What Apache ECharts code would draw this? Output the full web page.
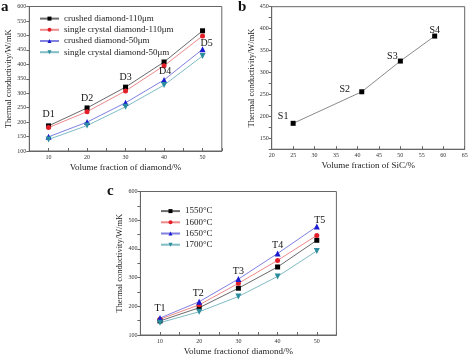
<!DOCTYPE html>
<html><head><meta charset="utf-8">
<script src="https://cdn.jsdelivr.net/npm/echarts@6/dist/echarts.min.js"></script>
<style>html,body{margin:0;padding:0;background:#fff}#c{width:474px;height:361px}</style>
</head><body><div id="c"></div>
<script>
// Panel a
const xA = [10, 20, 30, 40, 50];
const crushed110 = [187, 249, 321, 408, 516];
const single110 = [181, 236, 308, 395, 498];
const crushed50 = [149, 200, 267, 346, 452];
const single50 = [140, 188, 253, 328, 429];
const namesA = ['crushed diamond-110μm', 'single crystal diamond-110μm', 'crushed diamond-50μm', 'single crystal diamond-50μm'];
const labelsA = ['D1', 'D2', 'D3', 'D4', 'D5'];
// Panel b
const xB = [25, 41, 50, 58];
const sicTC = [184, 256, 326, 383];
const labelsB = ['S1', 'S2', 'S3', 'S4'];
// Panel c
const xC = [10, 20, 30, 40, 50];
const t1550 = [149, 195, 263, 337, 430];
const t1600 = [155, 205, 280, 360, 447];
const t1650 = [159, 216, 295, 384, 478];
const t1700 = [143, 181, 234, 304, 393];
const namesC = ['1550°C', '1600°C', '1650°C', '1700°C'];
const labelsC = ['T1', 'T2', 'T3', 'T4', 'T5'];

const FONT = 'Liberation Serif';
const markerColors = ['#000000', '#e3202a', '#1a1ad0', '#2a8c9c'];
const lineColors = ['#6a6a6a', '#ee8a8a', '#8080e0', '#80bcc4'];
const symbols = ['rect', 'circle', 'triangle', 'path://M0,0 L10,0 L5,9 Z'];
const symSizes = [5, 5, 6, 6];

function pairs(xs, ys) { return xs.map((x, i) => [x, ys[i]]); }

function withLabels(xs, ys, labels, which, offsets) {
  return xs.map((x, i) => {
    const item = { value: [x, ys[i]] };
    if (which[i]) {
      item.label = { show: true, formatter: labels[i], position: 'inside', offset: offsets[i],
        fontFamily: FONT, fontSize: 10, color: '#111' };
    }
    return item;
  });
}

function lineSeries(name, data, k, gi, extra) {
  return Object.assign({
    name: name, type: 'line', xAxisIndex: gi, yAxisIndex: gi, data: data,
    symbol: symbols[k], symbolSize: symSizes[k],
    itemStyle: { color: markerColors[k] },
    lineStyle: { color: lineColors[k], width: 1 },
    emphasis: { disabled: true }, animation: false, z: 3
  }, extra || {});
}

const axisLineStyle = { lineStyle: { color: '#666', width: 1 } };
function xAxis(gi, min, max, interval, every, name, gap) {
  return {
    type: 'value', gridIndex: gi, min: min, max: max, interval: interval,
    axisLine: axisLineStyle, splitLine: { show: false },
    axisTick: { inside: true, length: 3, lineStyle: { color: '#666' } },
    axisLabel: { fontFamily: FONT, fontSize: 6, color: '#333', margin: 3,
      formatter: v => (v % every === 0) ? String(v) : '' },
    name: name, nameLocation: 'middle', nameGap: gap,
    nameTextStyle: { fontFamily: FONT, fontSize: 9, color: '#222' }
  };
}
function yAxis(gi, min, max, interval, every, name, gap) {
  return {
    type: 'value', gridIndex: gi, min: min, max: max, interval: interval,
    axisLine: axisLineStyle, splitLine: { show: false },
    axisTick: { inside: false, length: 3, lineStyle: { color: '#666' } },
    axisLabel: { fontFamily: FONT, fontSize: 6, color: '#333', margin: 3,
      formatter: v => (v % every === 0) ? String(v) : '' },
    name: name, nameLocation: 'middle', nameGap: gap, nameRotate: 90,
    nameTextStyle: { fontFamily: FONT, fontSize: 8.5, color: '#222' }
  };
}

const offA = [[0, -11], [0, -10], [0, -10], [1, -9], [4, -6]];
const offB = [[-10, -7], [-17, -2], [-8, -5], [0, -6]];
const offC = [[0, -10], [-1, -8], [0, -8], [0, -8], [3, -6]];

const seriesA = [crushed110, single110, crushed50, single50];
const seriesC = [t1550, t1600, t1650, t1700];

const series = [];
seriesA.forEach((ys, k) => {
  let data;
  if (k === 0) data = withLabels(xA, ys, labelsA, [1, 1, 1, 0, 0], offA);
  else if (k === 2) data = withLabels(xA, ys, labelsA, [0, 0, 0, 1, 1], offA);
  else data = pairs(xA, ys);
  series.push(lineSeries(namesA[k], data, k, 0));
});
series.push(lineSeries('SiC', withLabels(xB, sicTC, labelsB, [1, 1, 1, 1], offB), 0, 1,
  { lineStyle: { color: '#8a8a8a', width: 1 } }));
seriesC.forEach((ys, k) => {
  const data = k === 2 ? withLabels(xC, ys, labelsC, [1, 1, 1, 1, 1], offC) : pairs(xC, ys);
  series.push(lineSeries(namesC[k], data, k, 2));
});

const legendCommon = {
  orient: 'vertical', itemWidth: 19, itemHeight: 5, itemGap: 0,
  textStyle: { fontFamily: FONT, fontSize: 9, color: '#222', lineHeight: 11.2 },
  selectedMode: false
};

const option = {
  backgroundColor: '#fff',
  animation: false,
  grid: [
    { left: 29.3, top: 6.5, width: 192.5, height: 144.5, show: true, borderColor: '#666', borderWidth: 1, containLabel: false },
    { left: 271.7, top: 6.7, width: 193, height: 142.5, show: true, borderColor: '#666', borderWidth: 1, containLabel: false },
    { left: 140.4, top: 191.5, width: 196, height: 143.5, show: true, borderColor: '#666', borderWidth: 1, containLabel: false }
  ],
  xAxis: [
    xAxis(0, 5, 55, 5, 10, 'Volume fraction of diamond/%', 12),
    xAxis(1, 20, 65, 5, 5, 'Volume fraction of SiC/%', 12),
    xAxis(2, 5, 55, 5, 10, 'Volume fractionof diamond/%', 12.5)
  ],
  yAxis: [
    yAxis(0, 100, 600, 50, 50, 'Thermal conductivity/W/mK', 14),
    yAxis(1, 125, 450, 25, 50, 'Thermal conductivity/W/mK', 13),
    yAxis(2, 100, 600, 50, 100, 'Thermal conductivity/W/mK', 16)
  ],
  legend: [
    Object.assign({}, legendCommon, { left: 34, top: 8, data: namesA }),
    Object.assign({}, legendCommon, { left: 155, top: 200.5, data: namesC })
  ],
  graphic: [
    { type: 'text', left: 1, top: 0, style: { text: 'a', font: 'bold 15px "Liberation Serif"', fill: '#111' } },
    { type: 'text', left: 238, top: 0, style: { text: 'b', font: 'bold 15px "Liberation Serif"', fill: '#111' } },
    { type: 'text', left: 107, top: 184, style: { text: 'c', font: 'bold 15px "Liberation Serif"', fill: '#111' } }
  ],
  series: series
};

const chart = echarts.init(document.getElementById('c'), null, { renderer: 'canvas' });
chart.setOption(option);
</script>
</body></html>
